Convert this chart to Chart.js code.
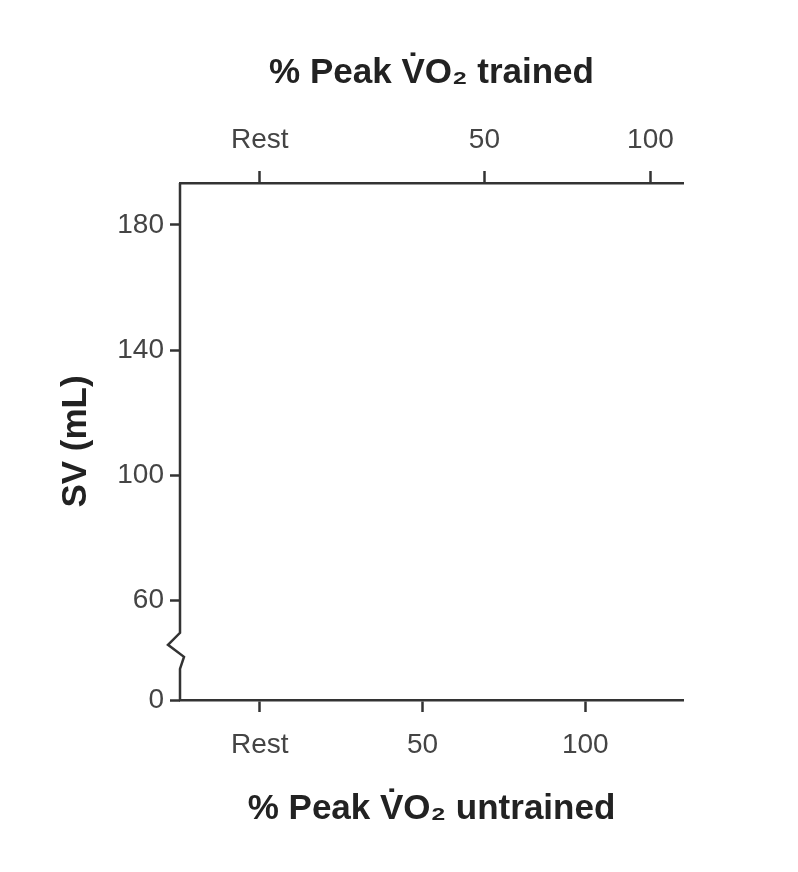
<!DOCTYPE html>
<html>
<head>
<meta charset="utf-8">
<script src="https://cdn.jsdelivr.net/npm/chart.js@4.4.1/dist/chart.umd.min.js"></script>
<style>
  html, body { margin: 0; padding: 0; background: #fff; }
  #wrap { width: 798px; height: 872px; }
</style>
</head>
<body>
<div id="wrap"><canvas id="chart"></canvas></div>
<script>
// bottom axis (% peak VO2 untrained)
var bottomTicks = [0, 50, 100];
var bottomLabels = ['Rest', '50', '100'];
// top axis (% peak VO2 trained), placed against the untrained scale
var topTicks = [0, 69, 120];
var topLabels = ['Rest', '50', '100'];
// y axis (SV, mL); the 0 sits below an axis break
var yTicks = [28.3, 60, 100, 140, 180];
var yLabels = ['0', '60', '100', '140', '180'];
var xMin = -24.5, xMax = 130;
var yMin = 28.3, yMax = 193.4;

var ink = '#333';
var tickFont = { family: 'Liberation Sans Narrow, Liberation Sans', size: 28 };
var titleFont = { family: 'Liberation Sans', size: 35, weight: 'bold' };

function fixedTicks(values) {
    return function(scale) {
        scale.ticks = values.map(function(v) { return { value: v }; });
    };
}
function labelFrom(values, labels) {
    return function(value) {
        var i = values.indexOf(value);
        return i >= 0 ? labels[i] : '';
    };
}

// left axis line with the zig-zag break near the bottom
var breakAxis = {
    id: 'breakAxis',
    afterDraw: function(chart) {
        var ctx = chart.ctx, a = chart.chartArea, y = chart.scales.y;
        var x0 = a.left;
        var yb = y.getPixelForValue(44);
        ctx.save();
        ctx.strokeStyle = ink;
        ctx.lineWidth = 2.5;
        ctx.beginPath();
        ctx.moveTo(x0, a.top);
        ctx.lineTo(x0, yb - 18);
        ctx.lineTo(x0 - 12, yb - 6);
        ctx.lineTo(x0 + 4, yb + 6);
        ctx.lineTo(x0, yb + 18);
        ctx.lineTo(x0, a.bottom);
        ctx.stroke();
        ctx.restore();
    }
};

new Chart(document.getElementById('chart'), {
    type: 'scatter',
    data: { datasets: [{ data: [] }] },
    options: {
        responsive: true,
        maintainAspectRatio: false,
        animation: false,
        layout: { padding: { left: 0, right: 115, top: 0, bottom: 0 } },
        plugins: { legend: { display: false }, tooltip: { enabled: false } },
        scales: {
            x: {
                type: 'linear', position: 'bottom', min: xMin, max: xMax,
                afterBuildTicks: fixedTicks(bottomTicks),
                afterFit: function(s) { s.height = 172; },
                grid: { drawOnChartArea: false, tickLength: 12, tickWidth: 2.5, color: ink },
                border: { display: true, color: ink, width: 2.5 },
                ticks: { color: '#444', font: tickFont, padding: 16, maxRotation: 0,
                         callback: labelFrom(bottomTicks, bottomLabels) },
                title: { display: true, text: '% Peak V\u0307O\u2082 untrained', color: '#222',
                         font: titleFont, padding: { top: 0, bottom: 42 } }
            },
            x2: {
                type: 'linear', position: 'top', min: xMin, max: xMax,
                afterBuildTicks: fixedTicks(topTicks),
                afterFit: function(s) { s.height = 183; },
                grid: { drawOnChartArea: false, tickLength: 12, tickWidth: 2.5, color: ink },
                border: { display: true, color: ink, width: 2.5 },
                ticks: { color: '#444', font: tickFont, padding: 14, maxRotation: 0,
                         callback: labelFrom(topTicks, topLabels) },
                title: { display: true, text: '% Peak V\u0307O\u2082 trained', color: '#222',
                         font: titleFont, padding: { top: 52, bottom: 0 } }
            },
            y: {
                type: 'linear', min: yMin, max: yMax,
                afterBuildTicks: fixedTicks(yTicks),
                afterFit: function(s) { s.width = 180; },
                grid: { drawOnChartArea: false, tickLength: 10, tickWidth: 2.5, color: ink },
                border: { display: false },
                ticks: { color: '#444', font: tickFont, padding: 6,
                         callback: labelFrom(yTicks, yLabels) },
                title: { display: true, text: 'SV (mL)', color: '#222',
                         font: titleFont, padding: { top: 55, bottom: 0 } }
            }
        }
    },
    plugins: [breakAxis]
});
</script>
</body>
</html>
